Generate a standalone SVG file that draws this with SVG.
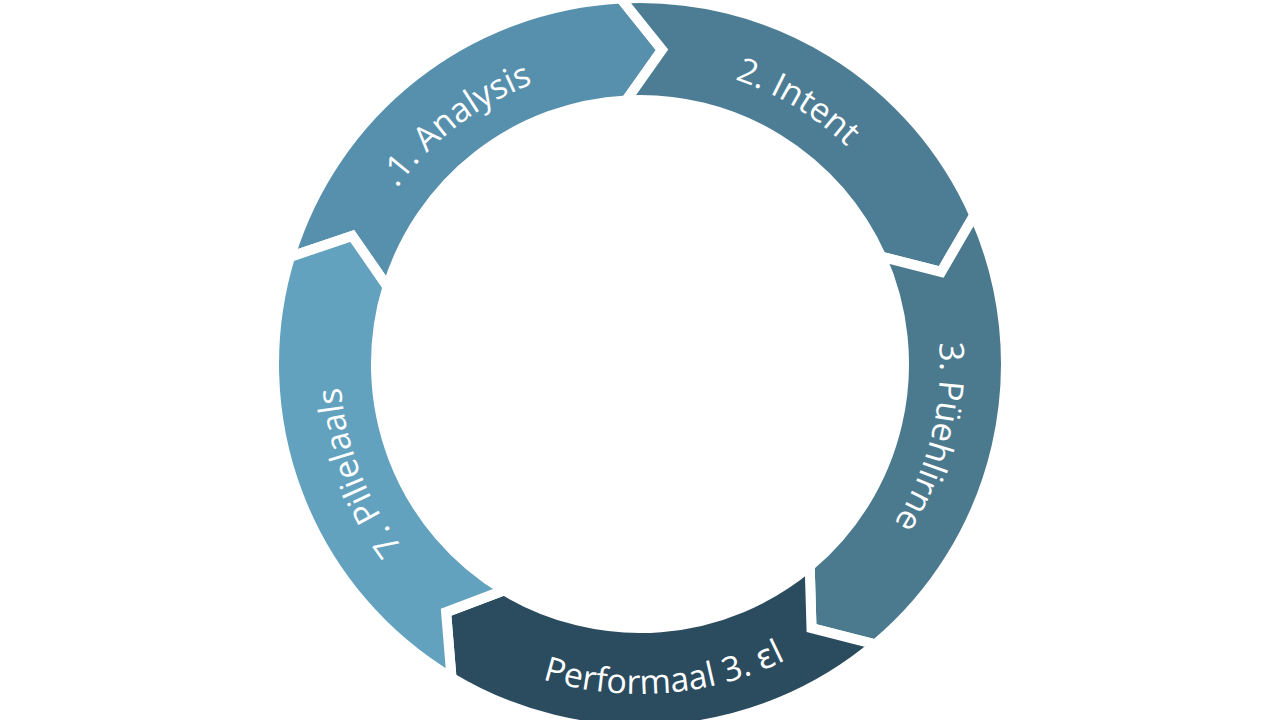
<svg xmlns="http://www.w3.org/2000/svg" width="1280" height="720" viewBox="0 0 1280 720">
<style>
.seg{stroke:#fff;stroke-width:10;stroke-linejoin:miter}
.lbl{font-family:"Open Sans","DejaVu Sans",sans-serif;font-size:34px;fill:#fff}
</style>
<defs>
<path id="p1" d="M358.1,261.4 A300 300 0 0 1 613.8,65.1"/>
<path id="p2" d="M640,64 A300 300 0 0 1 904.9,223.1"/>
<path id="p3" d="M921.9,261.4 A300 300 0 0 1 840.7,586.9"/>
<path id="p4" d="M485.1,655.4 A330 330 0 0 0 838.6,627.5"/>
<path id="p5" d="M467.9,609.8 A300 300 0 0 1 347.7,296.5"/>
</defs>
<rect width="1280" height="720" fill="#fff"/>
<g id="connectors"></g>
<g id="n1"><path class="seg" fill="#5790ad" d="M290,257 A366 366 0 0 1 620.9,-1.5 L662,49.8 L626.2,100.4 A264 264 0 0 0 387.5,286.8 L352.2,235.9 Z"/>
<text class="lbl"><textPath href="#p1" startOffset="50%" text-anchor="middle">.1. Analysis</textPath></text></g>
<g id="n2"><path class="seg" fill="#4c7d94" d="M620.9,-1.5 A366 366 0 0 1 974.3,215.1 L941.2,271.9 L881.2,256.6 A264 264 0 0 0 626.2,100.4 L662,49.8 Z"/>
<text class="lbl"><textPath href="#p2" startOffset="50%" text-anchor="middle">2.  Intent</textPath></text></g>
<g id="n3"><path class="seg" fill="#4b7a8f" d="M974.3,215.1 A366 366 0 0 1 875.3,644.4 L811.5,628.2 L809.7,566.2 A264 264 0 0 0 881.2,256.6 L941.2,271.9 Z"/>
<text class="lbl"><textPath href="#p3" startOffset="50%" text-anchor="middle">3.  Püehlirne</textPath></text></g>
<g id="n4"><path class="seg" fill="#2b4b5f" d="M875.3,644.4 A366 366 0 0 1 451.5,677.7 L446.1,612.2 L504,590.3 A264 264 0 0 0 809.7,566.2 L811.5,628.2 Z"/>
<text class="lbl"><textPath href="#p4" startOffset="50%" text-anchor="middle">Performaal  3. ɛl</textPath></text></g>
<g id="n5"><path class="seg" fill="#62a2bf" d="M451.5,677.7 A366 366 0 0 1 290,257 L352.2,235.9 L387.5,286.8 A264 264 0 0 0 504,590.3 L446.1,612.2 Z"/>
<text class="lbl"><textPath href="#p5" startOffset="50%" text-anchor="middle">7.  Pilielaals</textPath></text></g>
</svg>
